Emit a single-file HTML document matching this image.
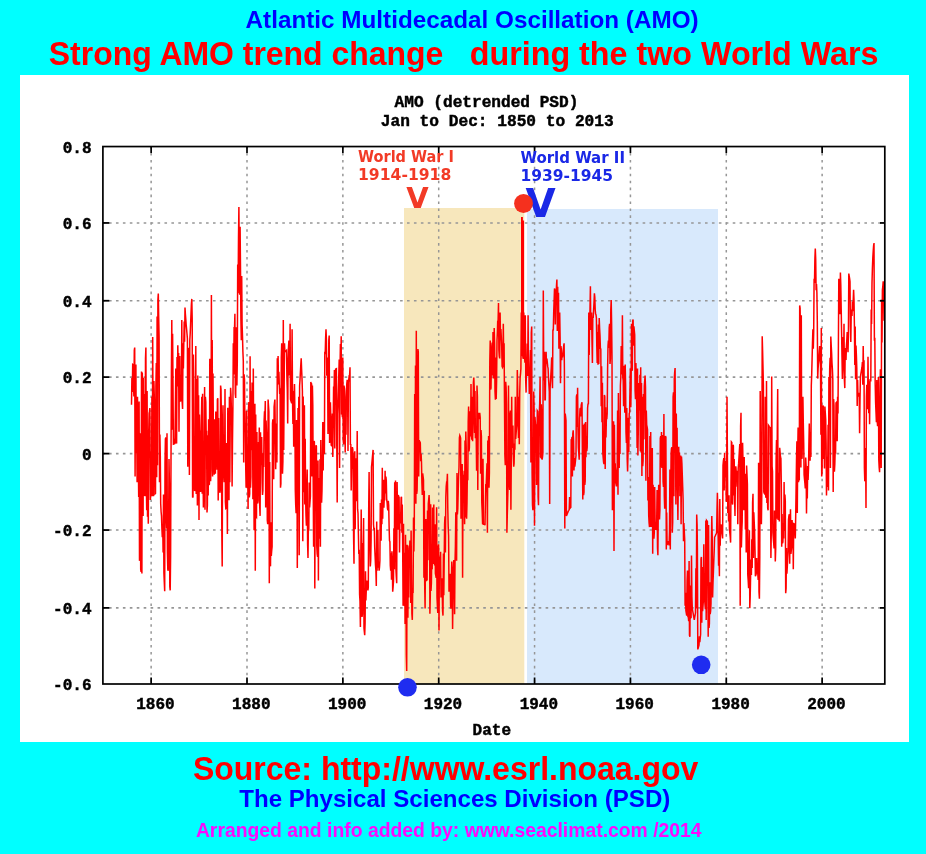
<!DOCTYPE html>
<html><head><meta charset="utf-8"><title>Atlantic Multidecadal Oscillation (AMO)</title>
<style>
html,body{margin:0;padding:0;background:#00ffff;}
body{width:926px;height:854px;overflow:hidden;position:relative;}
svg{display:block;position:absolute;left:0;top:0;}
</style></head><body>
<svg width="926" height="854" viewBox="0 0 926 854">
<rect x="0" y="0" width="926" height="854" fill="#00ffff"/>
<rect x="20" y="75" width="889" height="667" fill="#ffffff"/>

<text x="245.6" y="27.7" style="font-family:'Liberation Sans',Arial,sans-serif;font-weight:bold;font-size:24px" fill="#0000ff" textLength="453" lengthAdjust="spacingAndGlyphs">Atlantic Multidecadal Oscillation (AMO)</text>
<text x="48.8" y="65" style="font-family:'Liberation Sans',Arial,sans-serif;font-weight:bold;font-size:32.3px" fill="#ff0000" textLength="394.5" lengthAdjust="spacingAndGlyphs">Strong AMO trend change</text>
<text x="469.8" y="65" style="font-family:'Liberation Sans',Arial,sans-serif;font-weight:bold;font-size:32.3px" fill="#ff0000" textLength="408.7" lengthAdjust="spacingAndGlyphs">during the two World Wars</text>
<rect x="404" y="208" width="120.3" height="476" fill="#f7e7bc"/>
<rect x="527" y="209" width="191" height="475" fill="#d8e9fc"/>
<line x1="151.14" y1="146.55" x2="151.14" y2="684" stroke="#969696" stroke-width="1.5" stroke-dasharray="2.6,4.33" stroke-dashoffset="0.51"/>
<line x1="247.0" y1="146.55" x2="247.0" y2="684" stroke="#969696" stroke-width="1.5" stroke-dasharray="2.6,4.33" stroke-dashoffset="0.51"/>
<line x1="342.86" y1="146.55" x2="342.86" y2="684" stroke="#969696" stroke-width="1.5" stroke-dasharray="2.6,4.33" stroke-dashoffset="0.51"/>
<line x1="438.71" y1="146.55" x2="438.71" y2="684" stroke="#969696" stroke-width="1.5" stroke-dasharray="2.6,4.33" stroke-dashoffset="0.51"/>
<line x1="534.57" y1="146.55" x2="534.57" y2="684" stroke="#969696" stroke-width="1.5" stroke-dasharray="2.6,4.33" stroke-dashoffset="0.51"/>
<line x1="630.43" y1="146.55" x2="630.43" y2="684" stroke="#969696" stroke-width="1.5" stroke-dasharray="2.6,4.33" stroke-dashoffset="0.51"/>
<line x1="726.29" y1="146.55" x2="726.29" y2="684" stroke="#969696" stroke-width="1.5" stroke-dasharray="2.6,4.33" stroke-dashoffset="0.51"/>
<line x1="822.14" y1="146.55" x2="822.14" y2="684" stroke="#969696" stroke-width="1.5" stroke-dasharray="2.6,4.33" stroke-dashoffset="0.51"/>
<line x1="103" y1="222.95" x2="885" y2="222.95" stroke="#969696" stroke-width="1.6" stroke-dasharray="2.6,4.33" stroke-dashoffset="0.91"/>
<line x1="103" y1="300.75" x2="885" y2="300.75" stroke="#969696" stroke-width="1.6" stroke-dasharray="2.6,4.33" stroke-dashoffset="0.91"/>
<line x1="103" y1="377.1" x2="885" y2="377.1" stroke="#969696" stroke-width="1.6" stroke-dasharray="2.6,4.33" stroke-dashoffset="0.91"/>
<line x1="103" y1="453.6" x2="885" y2="453.6" stroke="#969696" stroke-width="1.6" stroke-dasharray="2.6,4.33" stroke-dashoffset="0.91"/>
<line x1="103" y1="530.05" x2="885" y2="530.05" stroke="#969696" stroke-width="1.6" stroke-dasharray="2.6,4.33" stroke-dashoffset="0.91"/>
<line x1="103" y1="607.9" x2="885" y2="607.9" stroke="#969696" stroke-width="1.6" stroke-dasharray="2.6,4.33" stroke-dashoffset="0.91"/>
<polyline fill="none" stroke="#ff0000" stroke-width="1.5" stroke-linejoin="miter" points="131.5,404.7 131.9,378.1 132.3,392.0 132.7,364.4 133.1,364.7 133.5,385.5 133.9,396.4 134.3,350.3 134.7,347.5 135.1,476.5 135.5,391.9 135.9,364.4 136.3,453.2 136.7,424.4 137.1,482.2 137.5,396.7 137.9,434.0 138.3,461.8 138.7,497.1 139.1,401.6 139.5,560.8 139.9,559.3 140.3,433.3 140.7,569.5 141.1,572.0 141.5,371.4 141.9,573.5 142.3,372.6 142.7,414.0 143.1,515.9 143.5,377.8 143.9,496.1 144.3,393.9 144.7,429.2 145.1,496.2 145.5,358.4 145.9,347.5 146.3,480.0 146.7,510.2 147.1,391.1 147.5,516.7 147.9,495.5 148.3,523.7 148.7,433.5 149.1,413.6 149.5,411.2 149.9,408.0 150.3,500.0 150.7,496.2 151.1,451.5 151.5,496.2 151.9,396.7 152.3,496.2 152.7,336.9 153.1,440.2 153.5,496.2 153.9,380.9 154.3,396.7 154.7,429.5 155.1,493.8 155.5,493.4 155.9,386.6 156.3,363.0 156.7,477.2 157.1,316.6 157.5,465.3 157.9,300.0 158.3,293.6 158.7,317.6 159.1,337.3 159.5,482.2 159.9,434.5 160.3,456.2 160.7,503.7 161.1,511.7 161.5,515.9 161.9,528.7 162.3,537.3 162.7,524.1 163.1,552.4 163.5,494.4 163.9,573.1 164.3,582.3 164.7,591.2 165.0,463.0 165.4,439.0 165.8,437.4 166.2,518.7 166.6,528.4 167.0,433.3 167.4,552.4 167.8,569.3 168.2,570.8 168.6,534.3 169.0,459.0 169.4,483.1 169.8,586.5 170.2,590.4 170.6,556.9 171.0,460.9 171.4,373.8 171.8,320.0 172.2,429.7 172.6,333.7 173.0,384.8 173.4,444.2 173.8,444.1 174.2,443.9 174.6,443.7 175.0,437.5 175.4,404.5 175.8,368.6 176.2,442.9 176.6,442.8 177.0,356.9 177.4,386.6 177.8,345.3 178.2,364.4 178.6,352.9 179.0,431.7 179.4,361.6 179.8,356.1 180.2,401.7 180.6,393.8 181.0,374.7 181.4,401.6 181.8,320.0 182.2,402.4 182.6,409.0 183.0,343.3 183.4,368.5 183.8,343.7 184.2,321.4 184.6,341.7 185.0,307.6 185.4,314.4 185.8,319.4 186.2,325.1 186.6,329.1 187.0,333.8 187.4,338.6 187.8,466.7 188.2,355.6 188.6,351.8 189.0,347.8 189.4,475.1 189.8,340.5 190.2,333.6 190.6,323.7 191.0,313.9 191.4,304.0 191.8,298.9 192.2,318.5 192.6,497.6 193.0,496.7 193.4,354.6 193.8,379.5 194.2,478.8 194.6,491.1 195.0,489.7 195.4,487.8 195.8,346.1 196.2,494.0 196.6,379.0 197.0,457.1 197.4,505.5 197.8,375.6 198.2,500.3 198.6,395.2 199.0,520.1 199.4,414.6 199.8,433.9 200.2,430.4 200.6,491.9 201.0,482.2 201.4,419.8 201.8,396.7 202.2,493.7 202.6,393.7 203.0,466.8 203.4,507.4 203.8,466.7 204.2,484.1 204.6,386.9 205.0,509.8 205.4,396.9 205.8,401.7 206.2,434.7 206.6,430.8 207.0,512.5 207.4,505.2 207.8,435.3 208.2,495.4 208.6,419.2 209.0,485.0 209.4,484.1 209.8,358.8 210.2,405.4 210.6,481.1 211.0,469.6 211.4,295.0 211.8,436.5 212.2,339.9 212.6,476.5 213.0,373.5 213.4,437.5 213.8,456.1 214.2,474.8 214.6,419.2 215.0,439.3 215.4,473.7 215.8,411.4 216.2,452.9 216.6,432.3 217.0,469.7 217.4,399.5 217.8,398.2 218.2,500.4 218.6,417.9 219.0,475.5 219.4,471.8 219.8,492.8 220.2,490.6 220.6,385.5 221.0,389.0 221.4,416.1 221.8,530.4 222.2,566.5 222.6,438.8 223.0,405.2 223.4,455.6 223.8,473.7 224.2,482.1 224.6,474.1 225.0,388.9 225.4,501.9 225.8,508.5 226.2,508.2 226.6,442.9 227.0,483.1 227.4,534.1 227.8,407.7 228.2,486.6 228.6,469.2 229.0,500.3 229.4,396.8 229.8,482.2 230.2,428.0 230.6,387.7 231.0,394.9 231.3,405.4 231.7,416.0 232.1,486.4 232.5,441.4 232.9,407.9 233.3,343.3 233.7,374.5 234.1,326.9 234.5,329.7 234.9,313.8 235.3,393.7 235.7,398.0 236.1,327.3 236.5,332.1 236.9,385.4 237.3,361.5 237.7,264.6 238.1,293.2 238.5,238.3 238.9,207.0 239.3,263.3 239.7,294.7 240.1,226.7 240.5,269.3 240.9,319.4 241.3,340.2 241.7,275.9 242.1,324.3 242.5,336.2 242.9,351.8 243.3,360.9 243.7,462.5 244.1,374.2 244.5,379.5 244.9,422.8 245.3,425.7 245.7,465.5 246.1,487.8 246.5,410.8 246.9,452.7 247.3,487.7 247.7,471.9 248.1,508.9 248.5,408.0 248.9,402.0 249.3,497.4 249.7,493.7 250.1,356.3 250.5,487.8 250.9,476.8 251.3,391.1 251.7,450.3 252.1,382.5 252.5,392.5 252.9,499.3 253.3,368.6 253.7,451.3 254.1,530.2 254.5,410.0 254.9,403.7 255.3,570.7 255.7,414.5 256.1,516.5 256.5,517.1 256.9,432.0 257.3,501.8 257.7,503.5 258.1,500.6 258.5,442.1 258.9,473.4 259.3,427.6 259.7,506.0 260.1,515.9 260.5,432.3 260.9,463.8 261.3,464.2 261.7,437.1 262.1,482.7 262.5,495.0 262.9,490.6 263.3,453.2 263.7,467.0 264.1,421.1 264.5,411.3 264.9,418.2 265.3,400.9 265.7,507.4 266.1,420.5 266.5,433.3 266.9,432.4 267.3,520.2 267.7,524.3 268.1,399.5 268.5,405.8 268.9,411.6 269.3,583.3 269.7,462.1 270.1,563.7 270.5,566.3 270.9,522.2 271.3,555.9 271.7,550.7 272.1,546.8 272.5,423.3 272.9,419.2 273.3,434.0 273.7,479.3 274.1,406.9 274.5,402.8 274.9,399.5 275.3,433.3 275.7,469.3 276.1,423.5 276.5,434.4 276.9,462.5 277.3,358.2 277.7,376.0 278.1,356.0 278.5,384.5 278.9,371.8 279.3,384.8 279.7,393.9 280.1,388.3 280.5,487.8 280.9,483.7 281.3,357.5 281.7,343.3 282.1,431.3 282.5,473.7 282.9,461.5 283.3,320.0 283.7,450.1 284.1,393.9 284.5,343.3 284.9,351.8 285.3,351.5 285.7,351.1 286.1,350.8 286.5,350.4 286.9,377.3 287.3,390.5 287.7,423.6 288.1,359.2 288.5,347.5 288.9,340.6 289.3,375.3 289.7,371.6 290.1,323.7 290.5,399.3 290.9,400.7 291.3,402.0 291.7,403.3 292.1,329.3 292.5,396.8 292.9,424.0 293.3,391.1 293.7,446.7 294.1,398.7 294.5,384.1 294.9,413.3 295.3,489.9 295.7,504.7 296.1,513.1 296.5,419.9 296.9,424.8 297.3,567.9 297.7,470.3 298.0,408.0 298.4,497.7 298.8,396.7 299.2,555.2 299.6,386.0 300.0,379.9 300.4,372.4 300.8,364.7 301.2,358.2 301.6,369.0 302.0,378.4 302.4,391.1 302.8,541.2 303.2,396.6 303.6,492.2 304.0,465.2 304.4,405.2 304.8,504.6 305.2,438.7 305.6,497.2 306.0,515.4 306.4,525.6 306.8,487.3 307.2,469.6 307.6,544.1 308.0,558.0 308.4,525.5 308.8,530.8 309.2,482.6 309.6,507.4 310.0,501.7 310.4,496.2 310.8,382.1 311.2,383.1 311.6,383.9 312.0,476.5 312.4,385.5 312.8,405.1 313.2,481.9 313.6,546.8 314.0,441.0 314.4,441.9 314.8,588.4 315.2,496.1 315.6,468.6 316.0,445.3 316.4,446.2 316.8,546.8 317.2,554.0 317.6,556.9 318.0,460.4 318.4,580.5 318.8,478.1 319.2,538.8 319.6,527.0 320.0,459.2 320.4,546.8 320.8,440.1 321.2,488.4 321.6,502.7 322.0,490.6 322.4,460.3 322.8,422.0 323.2,470.4 323.6,422.0 324.0,447.6 324.4,454.1 324.8,351.8 325.2,354.1 325.6,338.6 326.0,329.3 326.4,339.3 326.8,375.7 327.2,357.6 327.6,368.6 328.0,434.1 328.4,393.7 328.8,340.2 329.2,335.5 329.6,443.0 330.0,431.8 330.4,402.3 330.8,416.6 331.2,445.2 331.6,445.6 332.0,427.2 332.4,413.6 332.8,456.9 333.2,424.6 333.6,386.6 334.0,395.4 334.4,370.0 334.8,448.4 335.2,380.5 335.6,369.1 336.0,368.8 336.4,368.6 336.8,447.3 337.2,502.4 337.6,413.6 338.0,403.6 338.4,388.9 338.8,374.3 339.2,359.6 339.6,468.1 340.0,370.6 340.4,344.0 340.8,368.3 341.2,336.3 341.6,414.5 342.0,411.4 342.4,417.3 342.8,357.4 343.2,440.5 343.6,444.5 344.0,385.5 344.4,388.3 344.8,396.7 345.2,452.6 345.6,405.2 346.0,434.7 346.4,390.9 346.8,383.7 347.2,379.9 347.6,386.6 348.0,451.0 348.4,382.7 348.8,379.2 349.2,375.5 349.6,375.3 350.0,367.2 350.4,445.0 350.8,444.0 351.2,490.6 351.6,450.2 352.0,468.7 352.4,447.0 352.8,449.4 353.2,484.8 353.6,537.5 354.0,563.7 354.4,454.2 354.8,451.3 355.2,529.2 355.6,465.1 356.0,458.2 356.4,496.2 356.8,501.2 357.2,431.0 357.6,509.2 358.0,513.1 358.4,533.7 358.8,554.0 359.2,549.8 359.6,594.4 360.0,601.2 360.4,626.9 360.8,561.3 361.2,509.4 361.6,594.8 362.0,617.0 362.4,614.2 362.8,543.1 363.2,546.3 363.6,518.0 364.0,628.3 364.4,632.1 364.7,635.3 365.1,622.7 365.5,571.3 365.9,600.4 366.3,589.3 366.7,580.5 367.1,583.9 367.5,586.7 367.9,590.4 368.3,587.5 368.7,509.1 369.1,471.9 369.5,524.6 369.9,546.3 370.3,566.5 370.7,560.8 371.1,539.4 371.5,467.0 371.9,462.7 372.3,458.4 372.7,454.0 373.1,449.9 373.5,524.3 373.9,529.7 374.3,527.7 374.7,547.3 375.1,556.1 375.5,564.9 375.9,570.4 376.3,586.1 376.7,521.6 377.1,570.7 377.5,530.8 377.9,529.8 378.3,567.6 378.7,561.8 379.1,570.7 379.5,567.1 379.9,560.5 380.3,503.0 380.7,529.5 381.1,540.7 381.5,499.5 381.9,524.3 382.3,467.8 382.7,518.8 383.1,489.5 383.5,479.7 383.9,507.8 384.3,496.8 384.7,500.5 385.1,470.7 385.5,493.4 385.9,476.7 386.3,480.2 386.7,499.7 387.1,502.6 387.5,508.6 387.9,510.3 388.3,500.8 388.7,505.3 389.1,526.2 389.5,540.7 389.9,541.7 390.3,565.5 390.7,570.7 391.1,553.2 391.5,579.7 391.9,551.3 392.3,558.9 392.7,591.8 393.1,587.1 393.5,581.1 393.9,528.2 394.3,569.2 394.7,482.2 395.1,558.0 395.5,480.6 395.9,568.9 396.3,576.7 396.7,583.3 397.1,481.9 397.5,513.8 397.9,529.7 398.3,494.9 398.7,496.6 399.1,497.2 399.5,552.4 399.9,520.5 400.3,523.4 400.7,515.9 401.1,497.6 401.5,496.8 401.9,532.7 402.3,504.4 402.7,551.2 403.1,605.8 403.5,523.8 403.9,591.1 404.3,606.0 404.7,552.7 405.1,624.1 405.5,534.8 405.9,574.4 406.3,655.3 406.7,671.0 407.1,544.8 407.5,548.2 407.9,617.8 408.3,550.5 408.7,597.4 409.1,545.5 409.5,557.0 409.9,540.5 410.3,546.6 410.7,603.0 411.1,530.5 411.5,580.0 411.9,613.9 412.3,619.9 412.7,589.7 413.1,590.4 413.5,517.5 413.9,551.6 414.3,524.3 414.7,393.9 415.1,476.0 415.5,365.6 415.9,503.8 416.3,330.7 416.7,493.9 417.1,490.4 417.5,463.3 417.9,349.0 418.3,351.8 418.7,476.5 419.1,440.3 419.5,441.1 419.9,441.9 420.3,442.7 420.7,461.3 421.1,453.7 421.5,462.5 421.9,483.0 422.3,495.0 422.7,473.4 423.1,476.7 423.5,480.1 423.9,577.7 424.3,490.8 424.7,585.4 425.1,608.6 425.5,549.7 425.9,519.1 426.3,581.1 426.7,570.9 427.1,580.5 427.5,510.5 427.9,560.2 428.3,503.7 428.7,499.3 429.1,495.0 429.5,504.0 429.9,613.7 430.3,595.6 430.7,504.2 431.0,590.9 431.4,583.0 431.8,552.6 432.2,569.3 432.6,507.4 433.0,564.1 433.4,536.5 433.8,504.4 434.2,558.0 434.6,565.5 435.0,524.3 435.4,573.4 435.8,575.6 436.2,577.8 436.6,507.3 437.0,597.4 437.4,606.1 437.8,612.9 438.2,546.8 438.6,544.3 439.0,630.5 439.4,556.5 439.8,565.0 440.2,571.7 440.6,551.8 441.0,597.4 441.4,582.6 441.8,578.3 442.2,589.3 442.6,611.3 443.0,615.6 443.4,553.4 443.8,595.2 444.2,559.8 444.6,523.7 445.0,516.2 445.4,552.4 445.8,497.4 446.2,486.6 446.6,482.3 447.0,482.5 447.4,473.7 447.8,509.3 448.2,526.7 448.6,535.8 449.0,591.8 449.4,580.7 449.8,582.8 450.2,573.7 450.6,605.6 451.0,608.6 451.4,579.8 451.8,561.5 452.2,570.8 452.6,628.9 453.0,595.7 453.4,572.8 453.8,560.8 454.2,560.8 454.6,614.2 455.0,563.0 455.4,546.1 455.8,512.3 456.2,531.8 456.6,560.8 457.0,472.9 457.4,514.4 457.8,508.7 458.2,491.6 458.6,476.5 459.0,467.3 459.4,437.7 459.8,435.5 460.2,436.5 460.6,438.1 461.0,518.7 461.4,505.9 461.8,510.0 462.2,463.9 462.6,577.7 463.0,481.0 463.4,474.8 463.8,480.4 464.2,470.8 464.6,524.3 465.0,440.5 465.4,517.6 465.8,431.6 466.2,446.4 466.6,518.7 467.0,502.8 467.4,469.7 467.8,480.4 468.2,421.7 468.6,406.6 469.0,451.4 469.4,447.4 469.8,411.3 470.2,436.2 470.6,435.4 471.0,384.1 471.4,435.5 471.8,439.8 472.2,396.7 472.6,441.2 473.0,424.4 473.4,382.4 473.8,377.6 474.2,387.2 474.6,433.0 475.0,391.1 475.4,438.3 475.8,437.0 476.2,435.6 476.6,470.7 477.0,385.5 477.4,396.6 477.8,490.0 478.2,413.6 478.6,413.6 479.0,419.1 479.4,413.6 479.8,413.6 480.2,417.6 480.6,473.7 481.0,430.1 481.4,436.4 481.8,502.8 482.2,511.8 482.6,524.3 483.0,458.8 483.4,524.3 483.8,524.3 484.2,524.3 484.6,524.3 485.0,525.2 485.4,503.2 485.8,484.1 486.2,485.9 486.6,474.6 487.0,463.3 487.4,532.7 487.8,440.6 488.2,460.5 488.6,436.1 489.0,487.8 489.4,472.4 489.8,361.5 490.2,340.5 490.6,389.5 491.0,388.2 491.4,360.7 491.8,346.1 492.2,342.7 492.6,375.6 493.0,332.1 493.4,378.4 493.8,364.9 494.2,327.9 494.6,343.2 495.0,391.4 495.4,399.8 495.8,357.4 496.2,399.0 496.6,381.0 497.0,340.5 497.4,331.9 497.7,321.3 498.1,320.6 498.5,303.1 498.9,350.2 499.3,356.2 499.7,358.4 500.1,312.4 500.5,340.1 500.9,329.0 501.3,337.0 501.7,346.1 502.1,366.4 502.5,367.3 502.9,365.8 503.3,323.7 503.7,356.9 504.1,343.2 504.5,403.2 504.9,456.0 505.3,465.3 505.7,381.7 506.1,387.1 506.5,403.0 506.9,532.7 507.3,514.6 507.7,499.3 508.1,484.0 508.5,385.5 508.9,475.2 509.3,482.6 509.7,490.0 510.1,413.6 510.5,410.6 510.9,509.7 511.3,457.2 511.7,396.7 512.1,447.8 512.5,445.7 512.9,425.4 513.3,456.0 513.7,466.7 514.1,463.5 514.5,443.6 514.9,449.7 515.3,396.7 515.7,438.9 516.1,433.5 516.5,428.0 516.9,422.6 517.3,370.0 517.7,388.2 518.1,423.7 518.5,438.0 518.9,396.7 519.3,444.2 519.7,394.1 520.1,378.0 520.5,374.2 520.9,368.7 521.3,312.4 521.7,318.2 522.1,356.2 522.5,306.8 522.9,357.2 523.3,358.8 523.7,312.4 524.1,325.8 524.5,353.1 524.9,362.8 525.3,315.2 525.7,380.6 526.1,392.6 526.5,357.4 526.9,366.4 527.3,343.4 527.7,376.1 528.1,315.2 528.5,367.3 528.9,371.0 529.3,393.9 529.7,378.4 530.1,363.0 530.5,350.1 530.9,462.5 531.3,332.8 531.7,326.5 532.1,473.0 532.5,504.9 532.9,510.3 533.3,493.3 533.7,391.5 534.1,408.0 534.5,525.7 534.9,417.0 535.3,421.6 535.7,427.6 536.1,424.2 536.5,485.0 536.9,448.2 537.3,410.8 537.7,411.5 538.1,497.0 538.5,505.2 538.9,429.5 539.3,413.6 539.7,403.0 540.1,377.3 540.5,456.9 540.9,457.4 541.3,404.3 541.7,415.0 542.1,459.7 542.5,457.2 542.9,452.6 543.3,290.5 543.7,363.2 544.1,380.6 544.5,351.8 544.9,399.8 545.3,399.8 545.7,368.5 546.1,351.8 546.5,363.8 546.9,358.5 547.3,362.4 547.7,366.4 548.1,368.6 548.5,378.3 548.9,385.0 549.3,391.6 549.7,504.1 550.1,388.1 550.5,381.1 550.9,374.1 551.3,367.1 551.7,357.4 552.1,374.4 552.5,388.3 552.9,329.6 553.3,330.8 553.7,312.4 554.1,300.7 554.5,288.5 554.9,289.9 555.3,324.6 555.7,295.6 556.1,298.5 556.5,285.7 556.9,279.5 557.3,331.1 557.7,286.8 558.1,326.1 558.5,292.7 558.9,348.7 559.3,345.4 559.7,312.4 560.1,337.0 560.5,383.2 560.9,346.1 561.3,349.0 561.7,360.1 562.1,354.4 562.5,357.4 562.9,353.9 563.3,349.9 563.7,345.9 564.1,343.3 564.4,370.3 564.8,528.5 565.2,413.6 565.6,416.7 566.0,420.5 566.4,515.9 566.8,514.9 567.2,513.9 567.6,512.9 568.0,511.9 568.4,510.9 568.8,510.3 569.2,509.5 569.6,496.9 570.0,508.3 570.4,507.8 570.8,507.4 571.2,440.4 571.6,440.7 572.0,436.9 572.4,476.5 572.8,433.5 573.2,430.4 573.6,440.8 574.0,470.4 574.4,458.0 574.8,466.7 575.2,463.3 575.6,459.5 576.0,455.7 576.4,396.7 576.8,394.5 577.2,426.9 577.6,387.7 578.0,429.9 578.4,448.0 578.8,453.4 579.2,459.7 579.6,418.4 580.0,408.9 580.4,408.0 580.8,416.4 581.2,405.0 581.6,403.4 582.0,402.3 582.4,453.7 582.8,499.6 583.2,424.8 583.6,495.1 584.0,492.2 584.4,423.4 584.8,485.0 585.2,481.0 585.6,422.0 586.0,457.2 586.4,436.3 586.8,451.2 587.2,447.3 587.6,408.0 588.0,403.9 588.4,403.7 588.8,312.4 589.2,355.0 589.6,322.6 590.0,309.9 590.4,286.3 590.8,329.8 591.2,328.7 591.6,312.4 592.0,340.7 592.4,363.1 592.8,316.7 593.2,318.0 593.6,309.8 594.0,302.8 594.4,293.3 594.8,297.1 595.2,309.5 595.6,314.1 596.0,314.7 596.4,318.0 596.8,346.7 597.2,363.1 597.6,332.1 598.0,364.8 598.4,324.4 598.8,364.1 599.2,318.0 599.6,328.2 600.0,335.6 600.4,348.4 600.8,348.9 601.2,406.3 601.6,366.3 602.0,422.3 602.4,382.7 602.8,452.6 603.2,457.9 603.6,462.5 604.0,464.2 604.4,395.0 604.8,396.7 605.2,468.9 605.6,407.3 606.0,437.4 606.4,416.4 606.8,419.2 607.2,413.3 607.6,369.6 608.0,346.1 608.4,340.5 608.8,347.9 609.2,327.7 609.6,323.7 610.0,364.0 610.4,358.5 610.8,309.4 611.2,300.0 611.6,322.2 612.0,356.2 612.4,510.3 612.8,448.9 613.2,469.3 613.6,421.2 614.0,551.0 614.4,424.8 614.8,473.6 615.2,463.2 615.6,482.2 616.0,484.1 616.4,486.4 616.8,470.8 617.2,466.9 617.6,410.4 618.0,494.8 618.4,393.1 618.8,438.9 619.2,467.9 619.6,431.9 620.0,454.1 620.4,385.7 620.8,377.4 621.2,346.1 621.6,371.9 622.0,374.3 622.4,315.2 622.8,377.5 623.2,380.5 623.6,406.3 624.0,365.8 624.4,395.3 624.8,412.8 625.2,364.4 625.6,384.6 626.0,432.6 626.4,442.9 626.8,408.0 627.2,459.2 627.6,471.5 628.0,454.6 628.4,417.8 628.8,452.0 629.2,413.6 629.6,412.5 630.0,388.6 630.4,368.6 630.8,407.2 631.1,388.1 631.5,323.7 631.9,370.7 632.3,369.9 632.7,320.9 633.1,319.4 633.5,345.8 633.9,326.3 634.3,330.6 634.7,334.9 635.1,391.1 635.5,399.1 635.9,363.0 636.3,382.9 636.7,404.4 637.1,447.9 637.5,368.6 637.9,455.5 638.3,430.1 638.7,383.0 639.1,385.5 639.5,410.5 639.9,374.8 640.3,451.2 640.7,367.2 641.1,452.6 641.5,383.0 641.9,476.0 642.3,396.7 642.7,466.1 643.1,460.4 643.5,393.9 643.9,439.2 644.3,386.0 644.7,380.8 645.1,375.6 645.5,387.3 645.9,480.7 646.3,410.6 646.7,424.8 647.1,426.9 647.5,429.6 647.9,500.4 648.3,477.1 648.7,515.3 649.1,522.9 649.5,527.1 649.9,436.0 650.3,527.1 650.7,432.1 651.1,527.1 651.5,494.7 651.9,505.4 652.3,448.1 652.7,553.8 653.1,484.7 653.5,497.2 653.9,538.8 654.3,532.7 654.7,487.1 655.1,521.7 655.5,526.4 655.9,529.9 656.3,527.8 656.7,520.9 657.1,489.9 657.5,548.2 657.9,555.2 658.3,505.7 658.7,484.7 659.1,490.3 659.5,519.5 659.9,510.3 660.3,438.4 660.7,436.2 661.1,466.8 661.5,432.1 661.9,468.1 662.3,435.2 662.7,436.1 663.1,482.0 663.5,487.0 663.9,414.1 664.3,496.2 664.7,508.7 665.1,488.4 665.5,436.1 665.9,437.3 666.3,549.6 666.7,512.6 667.1,545.2 667.5,543.2 667.9,541.2 668.3,542.5 668.7,543.8 669.1,545.2 669.5,531.1 669.9,469.6 670.3,549.6 670.7,491.9 671.1,453.6 671.5,448.3 671.9,447.2 672.3,532.7 672.7,522.0 673.1,396.7 673.5,392.4 673.9,496.2 674.3,378.8 674.7,372.0 675.1,368.1 675.5,443.5 675.9,504.6 676.3,413.6 676.7,474.9 677.1,427.8 677.5,490.4 677.9,520.1 678.3,483.5 678.7,446.8 679.1,464.1 679.5,452.5 679.9,496.2 680.3,469.0 680.7,455.5 681.1,524.3 681.5,456.6 681.9,463.2 682.3,475.2 682.7,487.1 683.1,499.1 683.5,541.2 683.9,523.1 684.3,531.5 684.7,539.5 685.1,605.8 685.5,592.8 685.9,610.7 686.3,613.0 686.7,615.6 687.1,580.4 687.5,570.5 687.9,616.6 688.3,617.0 688.7,621.2 689.1,561.0 689.5,635.3 689.9,636.7 690.3,585.4 690.7,617.9 691.1,617.5 691.5,555.4 691.9,597.1 692.3,608.6 692.7,611.0 693.1,613.2 693.5,615.5 693.9,617.8 694.3,619.9 694.7,617.4 695.1,615.1 695.5,612.8 695.9,568.2 696.3,608.6 696.7,514.6 697.1,524.8 697.4,548.4 697.8,649.4 698.2,648.0 698.6,646.6 699.0,645.2 699.4,636.4 699.8,642.3 700.2,638.2 700.6,634.3 701.0,559.0 701.4,557.0 701.8,622.7 702.2,567.1 702.6,611.1 703.0,605.6 703.4,600.2 703.8,544.3 704.2,591.8 704.6,599.1 705.0,604.1 705.4,609.1 705.8,520.5 706.2,619.9 706.6,520.4 707.0,520.9 707.4,521.5 707.8,577.5 708.2,636.7 708.6,524.9 709.0,628.0 709.4,623.4 709.8,582.2 710.2,614.2 710.6,611.3 711.0,603.4 711.4,544.0 711.8,515.9 712.2,535.7 712.6,597.4 713.0,582.8 713.4,572.0 713.8,561.3 714.2,550.6 714.6,537.0 715.0,536.3 715.4,535.5 715.8,534.6 716.2,533.8 716.6,532.7 717.0,510.3 717.4,492.8 717.8,510.8 718.2,539.8 718.6,565.8 719.0,558.5 719.4,576.3 719.8,499.0 720.2,545.8 720.6,525.9 721.0,524.3 721.4,527.4 721.8,531.8 722.2,535.1 722.6,538.4 723.0,465.2 723.4,460.8 723.8,458.2 724.2,490.6 724.6,452.8 725.0,470.5 725.4,477.5 725.8,460.9 726.2,500.2 726.6,501.8 727.0,396.7 727.4,455.6 727.8,512.9 728.2,500.4 728.6,521.5 729.0,495.2 729.4,528.1 729.8,532.4 730.2,536.7 730.6,542.6 731.0,482.4 731.4,441.9 731.8,442.4 732.2,501.8 732.6,504.6 733.0,444.9 733.4,445.9 733.8,495.6 734.2,459.1 734.6,498.7 735.0,515.9 735.4,476.7 735.8,466.3 736.2,471.4 736.6,473.1 737.0,486.8 737.4,470.8 737.8,524.3 738.2,468.5 738.6,463.9 739.0,457.3 739.4,450.6 739.8,444.0 740.2,605.8 740.6,426.4 741.0,412.7 741.4,547.5 741.8,530.4 742.2,521.5 742.6,442.8 743.0,462.3 743.4,465.9 743.8,510.3 744.2,457.0 744.6,508.6 745.0,485.6 745.4,529.4 745.8,473.8 746.2,552.4 746.6,465.5 747.0,474.8 747.4,484.1 747.8,574.9 748.2,580.4 748.6,588.3 749.0,548.0 749.4,530.2 749.8,608.1 750.2,596.4 750.6,576.5 751.0,559.4 751.4,574.9 751.8,539.3 752.2,568.1 752.6,502.4 753.0,493.8 753.4,558.0 753.8,512.4 754.2,521.7 754.6,531.0 755.0,550.5 755.4,576.3 755.8,575.3 756.2,573.9 756.6,558.0 757.0,571.0 757.4,569.3 757.8,574.0 758.2,579.9 758.6,462.8 759.0,591.9 759.4,598.8 759.8,556.6 760.2,391.1 760.6,460.1 761.0,491.5 761.4,524.3 761.8,493.1 762.2,336.3 762.6,350.4 763.0,367.5 763.4,384.7 763.8,492.0 764.1,493.0 764.5,493.7 764.9,494.5 765.3,396.7 765.7,496.2 766.1,497.9 766.5,381.0 766.9,502.9 767.3,486.2 767.7,507.9 768.1,510.3 768.5,425.4 768.9,426.0 769.3,426.6 769.7,427.1 770.1,427.6 770.5,491.7 770.9,558.0 771.3,531.1 771.7,376.5 772.1,466.2 772.5,471.3 772.9,532.7 773.3,538.2 773.7,543.3 774.1,548.4 774.5,510.5 774.9,528.1 775.3,561.4 775.7,548.8 776.1,460.2 776.5,440.1 776.9,518.7 777.3,427.9 777.7,388.9 778.1,519.9 778.5,490.0 778.9,472.7 779.3,521.5 779.7,447.7 780.1,452.5 780.5,457.0 780.9,458.3 781.3,484.3 781.7,546.8 782.1,514.1 782.5,543.4 782.9,541.9 783.3,523.6 783.7,538.4 784.1,481.9 784.5,531.0 784.9,494.5 785.3,500.9 785.7,593.2 786.1,588.1 786.5,548.1 786.9,573.8 787.3,566.7 787.7,558.0 788.1,551.6 788.5,519.6 788.9,515.9 789.3,514.3 789.7,563.7 790.1,522.9 790.5,509.3 790.9,553.9 791.3,550.4 791.7,546.8 792.1,520.1 792.5,531.0 792.9,522.5 793.3,569.3 793.7,523.8 794.1,523.9 794.5,530.6 794.9,530.9 795.3,538.4 795.7,516.3 796.1,488.3 796.5,460.3 796.9,441.2 797.3,513.1 797.7,453.8 798.1,427.6 798.5,482.2 798.9,474.7 799.3,480.4 799.7,305.4 800.1,308.3 800.5,334.4 800.9,467.6 801.3,315.2 801.7,456.9 802.1,458.8 802.5,429.8 802.9,396.7 803.3,423.1 803.7,442.8 804.1,474.8 804.5,479.3 804.9,483.3 805.3,488.4 805.7,457.5 806.1,465.7 806.5,513.6 806.9,478.0 807.3,498.4 807.7,466.0 808.1,479.9 808.5,468.1 808.9,443.7 809.3,423.4 809.7,442.2 810.1,460.7 810.5,432.5 810.9,456.9 811.3,385.5 811.7,374.6 812.1,358.6 812.5,342.6 812.9,329.3 813.3,348.8 813.7,331.6 814.1,278.7 814.5,283.0 814.9,258.6 815.3,248.6 815.7,259.1 816.1,290.3 816.5,284.1 816.9,292.7 817.3,321.1 817.7,378.6 818.1,368.6 818.5,363.5 818.9,357.1 819.3,350.7 819.7,346.1 820.1,359.8 820.5,364.0 820.9,434.8 821.3,327.9 821.7,476.5 822.1,470.4 822.5,405.2 822.9,459.1 823.3,405.5 823.7,454.1 824.1,435.5 824.5,468.4 824.9,406.6 825.3,412.7 825.7,419.5 826.1,443.0 826.5,495.6 826.9,456.8 827.3,486.9 827.7,469.1 828.1,424.7 828.5,490.6 828.9,377.0 829.3,400.2 829.7,368.6 830.1,357.8 830.4,468.1 830.8,336.6 831.2,345.1 831.6,352.6 832.0,363.0 832.4,369.1 832.8,379.1 833.2,492.0 833.6,399.1 834.0,405.2 834.4,471.7 834.8,464.5 835.2,450.5 835.6,451.2 836.0,402.3 836.4,428.1 836.8,401.2 837.2,441.3 837.6,396.7 838.0,413.4 838.4,345.2 838.8,278.7 839.2,294.3 839.6,308.6 840.0,314.3 840.4,272.5 840.8,284.7 841.2,308.8 841.6,333.0 842.0,357.4 842.4,379.0 842.8,369.9 843.2,336.9 843.6,367.5 844.0,323.7 844.4,380.1 844.8,388.1 845.2,348.1 845.6,357.4 846.0,360.1 846.4,346.4 846.8,340.4 847.2,332.1 847.6,341.3 848.0,352.3 848.4,336.6 848.8,273.6 849.2,276.1 849.6,278.3 850.0,281.5 850.4,326.5 850.8,342.1 851.2,315.0 851.6,309.6 852.0,316.1 852.4,301.5 852.8,311.1 853.2,300.7 853.6,289.9 854.0,299.8 854.4,324.3 854.8,365.1 855.2,326.5 855.6,379.3 856.0,345.6 856.4,355.6 856.8,368.6 857.2,406.1 857.6,379.9 858.0,396.4 858.4,393.2 858.8,396.7 859.2,392.8 859.6,433.2 860.0,400.2 860.4,377.0 860.8,374.1 861.2,371.8 861.6,369.5 862.0,367.2 862.4,362.0 862.8,384.8 863.2,346.1 863.6,375.9 864.0,360.3 864.4,468.1 864.8,481.3 865.2,479.8 865.6,448.0 866.0,508.0 866.4,396.7 866.8,384.8 867.2,409.3 867.6,404.7 868.0,356.8 868.4,396.6 868.8,413.3 869.2,381.2 869.6,424.2 870.0,379.9 870.4,379.5 870.8,381.4 871.2,309.6 871.6,324.1 872.0,283.1 872.4,268.5 872.8,258.2 873.2,251.2 873.6,245.8 874.0,243.0 874.4,340.7 874.8,337.7 875.2,384.2 875.6,402.3 876.0,412.3 876.4,422.3 876.8,379.9 877.2,420.6 877.6,426.2 878.0,414.3 878.4,377.0 878.8,460.1 879.2,467.8 879.6,472.3 880.0,396.7 880.4,369.2 880.8,393.0 881.2,468.1 881.6,299.8 882.0,342.6 882.4,289.9 882.8,286.5 883.2,281.4 883.6,292.6 884.0,319.9 884.4,319.9"/>
<rect x="521" y="220.5" width="3.1" height="130" fill="#ff0000"/>
<rect x="521" y="217" width="1.9" height="4" fill="#ff0000"/>
<rect x="102.9" y="146.55" width="781.9" height="537.45" fill="none" stroke="#000" stroke-width="1.7"/>
<line x1="151.14" y1="146.5" x2="151.14" y2="153" stroke="#000" stroke-width="1.7"/>
<line x1="151.14" y1="677.5" x2="151.14" y2="684" stroke="#000" stroke-width="1.7"/>
<line x1="247.0" y1="146.5" x2="247.0" y2="153" stroke="#000" stroke-width="1.7"/>
<line x1="247.0" y1="677.5" x2="247.0" y2="684" stroke="#000" stroke-width="1.7"/>
<line x1="342.86" y1="146.5" x2="342.86" y2="153" stroke="#000" stroke-width="1.7"/>
<line x1="342.86" y1="677.5" x2="342.86" y2="684" stroke="#000" stroke-width="1.7"/>
<line x1="438.71" y1="146.5" x2="438.71" y2="153" stroke="#000" stroke-width="1.7"/>
<line x1="438.71" y1="677.5" x2="438.71" y2="684" stroke="#000" stroke-width="1.7"/>
<line x1="534.57" y1="146.5" x2="534.57" y2="153" stroke="#000" stroke-width="1.7"/>
<line x1="534.57" y1="677.5" x2="534.57" y2="684" stroke="#000" stroke-width="1.7"/>
<line x1="630.43" y1="146.5" x2="630.43" y2="153" stroke="#000" stroke-width="1.7"/>
<line x1="630.43" y1="677.5" x2="630.43" y2="684" stroke="#000" stroke-width="1.7"/>
<line x1="726.29" y1="146.5" x2="726.29" y2="153" stroke="#000" stroke-width="1.7"/>
<line x1="726.29" y1="677.5" x2="726.29" y2="684" stroke="#000" stroke-width="1.7"/>
<line x1="822.14" y1="146.5" x2="822.14" y2="153" stroke="#000" stroke-width="1.7"/>
<line x1="822.14" y1="677.5" x2="822.14" y2="684" stroke="#000" stroke-width="1.7"/>
<line x1="103" y1="222.95" x2="109.3" y2="222.95" stroke="#000" stroke-width="1.8"/>
<line x1="880" y1="222.95" x2="885" y2="222.95" stroke="#000" stroke-width="1.8"/>
<line x1="103" y1="300.75" x2="109.3" y2="300.75" stroke="#000" stroke-width="1.8"/>
<line x1="880" y1="300.75" x2="885" y2="300.75" stroke="#000" stroke-width="1.8"/>
<line x1="103" y1="377.1" x2="109.3" y2="377.1" stroke="#000" stroke-width="1.8"/>
<line x1="880" y1="377.1" x2="885" y2="377.1" stroke="#000" stroke-width="1.8"/>
<line x1="103" y1="453.6" x2="109.3" y2="453.6" stroke="#000" stroke-width="1.8"/>
<line x1="880" y1="453.6" x2="885" y2="453.6" stroke="#000" stroke-width="1.8"/>
<line x1="103" y1="530.05" x2="109.3" y2="530.05" stroke="#000" stroke-width="1.8"/>
<line x1="880" y1="530.05" x2="885" y2="530.05" stroke="#000" stroke-width="1.8"/>
<line x1="103" y1="607.9" x2="109.3" y2="607.9" stroke="#000" stroke-width="1.8"/>
<line x1="880" y1="607.9" x2="885" y2="607.9" stroke="#000" stroke-width="1.8"/>
<text x="155.44" y="709" text-anchor="middle" style="font-family:'Liberation Mono','DejaVu Sans Mono',monospace;font-weight:bold;stroke:#000;stroke-width:0.45px;font-size:16px" fill="#000">1860</text>
<text x="251.3" y="709" text-anchor="middle" style="font-family:'Liberation Mono','DejaVu Sans Mono',monospace;font-weight:bold;stroke:#000;stroke-width:0.45px;font-size:16px" fill="#000">1880</text>
<text x="347.16" y="709" text-anchor="middle" style="font-family:'Liberation Mono','DejaVu Sans Mono',monospace;font-weight:bold;stroke:#000;stroke-width:0.45px;font-size:16px" fill="#000">1900</text>
<text x="443.01" y="709" text-anchor="middle" style="font-family:'Liberation Mono','DejaVu Sans Mono',monospace;font-weight:bold;stroke:#000;stroke-width:0.45px;font-size:16px" fill="#000">1920</text>
<text x="538.87" y="709" text-anchor="middle" style="font-family:'Liberation Mono','DejaVu Sans Mono',monospace;font-weight:bold;stroke:#000;stroke-width:0.45px;font-size:16px" fill="#000">1940</text>
<text x="634.7299999999999" y="709" text-anchor="middle" style="font-family:'Liberation Mono','DejaVu Sans Mono',monospace;font-weight:bold;stroke:#000;stroke-width:0.45px;font-size:16px" fill="#000">1960</text>
<text x="730.5899999999999" y="709" text-anchor="middle" style="font-family:'Liberation Mono','DejaVu Sans Mono',monospace;font-weight:bold;stroke:#000;stroke-width:0.45px;font-size:16px" fill="#000">1980</text>
<text x="826.4399999999999" y="709" text-anchor="middle" style="font-family:'Liberation Mono','DejaVu Sans Mono',monospace;font-weight:bold;stroke:#000;stroke-width:0.45px;font-size:16px" fill="#000">2000</text>
<text x="91.5" y="152.55" text-anchor="end" style="font-family:'Liberation Mono','DejaVu Sans Mono',monospace;font-weight:bold;stroke:#000;stroke-width:0.45px;font-size:16px" fill="#000">0.8</text>
<text x="91.5" y="228.95" text-anchor="end" style="font-family:'Liberation Mono','DejaVu Sans Mono',monospace;font-weight:bold;stroke:#000;stroke-width:0.45px;font-size:16px" fill="#000">0.6</text>
<text x="91.5" y="306.75" text-anchor="end" style="font-family:'Liberation Mono','DejaVu Sans Mono',monospace;font-weight:bold;stroke:#000;stroke-width:0.45px;font-size:16px" fill="#000">0.4</text>
<text x="91.5" y="383.1" text-anchor="end" style="font-family:'Liberation Mono','DejaVu Sans Mono',monospace;font-weight:bold;stroke:#000;stroke-width:0.45px;font-size:16px" fill="#000">0.2</text>
<text x="91.5" y="459.6" text-anchor="end" style="font-family:'Liberation Mono','DejaVu Sans Mono',monospace;font-weight:bold;stroke:#000;stroke-width:0.45px;font-size:16px" fill="#000">0</text>
<text x="91.5" y="536.05" text-anchor="end" style="font-family:'Liberation Mono','DejaVu Sans Mono',monospace;font-weight:bold;stroke:#000;stroke-width:0.45px;font-size:16px" fill="#000">-0.2</text>
<text x="91.5" y="613.9" text-anchor="end" style="font-family:'Liberation Mono','DejaVu Sans Mono',monospace;font-weight:bold;stroke:#000;stroke-width:0.45px;font-size:16px" fill="#000">-0.4</text>
<text x="91.5" y="690.0" text-anchor="end" style="font-family:'Liberation Mono','DejaVu Sans Mono',monospace;font-weight:bold;stroke:#000;stroke-width:0.45px;font-size:16px" fill="#000">-0.6</text>
<text x="472.6" y="734.6" style="font-family:'Liberation Mono','DejaVu Sans Mono',monospace;font-weight:bold;stroke:#000;stroke-width:0.45px;font-size:16px" fill="#000">Date</text>
<text x="394.6" y="106.9" style="font-family:'Liberation Mono','DejaVu Sans Mono',monospace;font-weight:bold;stroke:#000;stroke-width:0.45px;font-size:16px" fill="#000" textLength="183.8" lengthAdjust="spacingAndGlyphs">AMO (detrended PSD)</text>
<text x="380.8" y="125.5" style="font-family:'Liberation Mono','DejaVu Sans Mono',monospace;font-weight:bold;stroke:#000;stroke-width:0.45px;font-size:16px" fill="#000" textLength="232.9" lengthAdjust="spacingAndGlyphs">Jan to Dec: 1850 to 2013</text>
<text x="358" y="162.4" style="font-family:'DejaVu Sans','Liberation Sans',sans-serif;font-weight:bold;font-size:16px" fill="#f23a26" textLength="96" lengthAdjust="spacingAndGlyphs">World War I</text>
<text x="358" y="180" style="font-family:'DejaVu Sans','Liberation Sans',sans-serif;font-weight:bold;font-size:16px" fill="#f23a26" textLength="93.3" lengthAdjust="spacingAndGlyphs">1914-1918</text>
<text x="417.5" y="207.8" text-anchor="middle" style="font-family:'DejaVu Sans','Liberation Sans',sans-serif;font-weight:bold;font-size:29px" fill="#f23a26">V</text>
<text x="520.4" y="163" style="font-family:'DejaVu Sans','Liberation Sans',sans-serif;font-weight:bold;font-size:16px" fill="#1a28e6" textLength="104.6" lengthAdjust="spacingAndGlyphs">World War II</text>
<text x="520.4" y="180.7" style="font-family:'DejaVu Sans','Liberation Sans',sans-serif;font-weight:bold;font-size:16px" fill="#1a28e6" textLength="92.6" lengthAdjust="spacingAndGlyphs">1939-1945</text>
<text x="540.5" y="216.5" text-anchor="middle" style="font-family:'DejaVu Sans','Liberation Sans',sans-serif;font-weight:bold;font-size:39px" fill="#1a28e6">V</text>
<circle cx="523.5" cy="203.5" r="9.4" fill="#f5301e"/>
<circle cx="407.5" cy="687.3" r="9.3" fill="#1f2cf0"/>
<circle cx="701.2" cy="664.8" r="9.3" fill="#1f2cf0"/>
<text x="192.9" y="780.1" style="font-family:'Liberation Sans',Arial,sans-serif;font-weight:bold;font-size:32.5px" fill="#ff0000" textLength="505.5" lengthAdjust="spacingAndGlyphs">Source: http://www.esrl.noaa.gov</text>
<text x="239.3" y="807" style="font-family:'Liberation Sans',Arial,sans-serif;font-weight:bold;font-size:24px" fill="#0000ff" textLength="431" lengthAdjust="spacingAndGlyphs">The Physical Sciences Division (PSD)</text>
<text x="195.9" y="836.5" style="font-family:'Liberation Sans',Arial,sans-serif;font-weight:bold;font-size:19.5px" fill="#fb0afb" textLength="505.7" lengthAdjust="spacingAndGlyphs">Arranged and info added by: www.seaclimat.com /2014</text>
</svg></body></html>
